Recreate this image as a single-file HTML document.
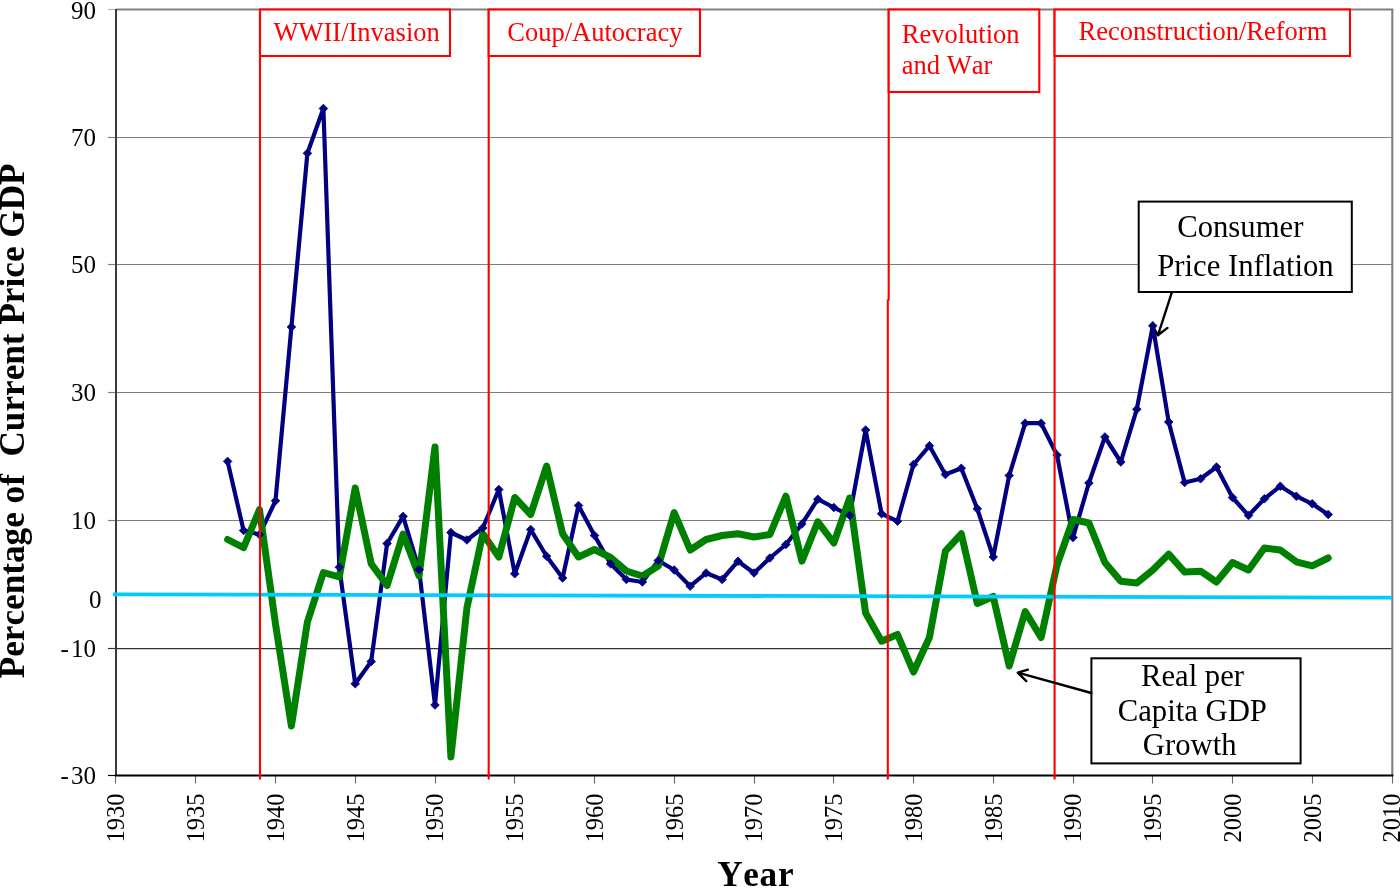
<!DOCTYPE html>
<html lang="en"><head><meta charset="utf-8"><title>Inflation and Real per Capita GDP Growth</title>
<style>
html,body{margin:0;padding:0;background:#fff;}
body{width:1400px;height:888px;overflow:hidden;}
svg{display:block;}
text{font-family:"Liberation Serif","Times New Roman",serif;font-kerning:none;}
.tick{font-size:25px;fill:#000;}
.red{font-size:26.5px;fill:#f00;}
.blk{font-size:30.7px;fill:#000;}
.ttl{font-size:35.2px;font-weight:bold;fill:#000;}
</style></head><body>
<svg width="1400" height="888" viewBox="0 0 1400 888">
<rect width="1400" height="888" fill="#fff"/>

<line x1="116" x2="1392" y1="137.5" y2="137.5" stroke="#7f7f7f" stroke-width="1.1"/>
<line x1="116" x2="1392" y1="264.5" y2="264.5" stroke="#7f7f7f" stroke-width="1.1"/>
<line x1="116" x2="1392" y1="392.5" y2="392.5" stroke="#7f7f7f" stroke-width="1.1"/>
<line x1="116" x2="1392" y1="520.5" y2="520.5" stroke="#7f7f7f" stroke-width="1.1"/>
<line x1="116" x2="1392" y1="648.5" y2="648.5" stroke="#333" stroke-width="1.25"/>
<line x1="116" x2="1393.3" y1="9.45" y2="9.45" stroke="#808080" stroke-width="2.1"/>
<line x1="1392.3" x2="1392.3" y1="9" y2="776" stroke="#808080" stroke-width="2.1"/>
<line x1="115.5" x2="115.5" y1="775.5" y2="783.5" stroke="#666" stroke-width="1.1"/>
<line x1="195.5" x2="195.5" y1="775.5" y2="783.5" stroke="#666" stroke-width="1.1"/>
<line x1="275.5" x2="275.5" y1="775.5" y2="783.5" stroke="#666" stroke-width="1.1"/>
<line x1="355.5" x2="355.5" y1="775.5" y2="783.5" stroke="#666" stroke-width="1.1"/>
<line x1="435.5" x2="435.5" y1="775.5" y2="783.5" stroke="#666" stroke-width="1.1"/>
<line x1="514.5" x2="514.5" y1="775.5" y2="783.5" stroke="#666" stroke-width="1.1"/>
<line x1="594.5" x2="594.5" y1="775.5" y2="783.5" stroke="#666" stroke-width="1.1"/>
<line x1="674.5" x2="674.5" y1="775.5" y2="783.5" stroke="#666" stroke-width="1.1"/>
<line x1="754.5" x2="754.5" y1="775.5" y2="783.5" stroke="#666" stroke-width="1.1"/>
<line x1="833.5" x2="833.5" y1="775.5" y2="783.5" stroke="#666" stroke-width="1.1"/>
<line x1="913.5" x2="913.5" y1="775.5" y2="783.5" stroke="#666" stroke-width="1.1"/>
<line x1="993.5" x2="993.5" y1="775.5" y2="783.5" stroke="#666" stroke-width="1.1"/>
<line x1="1073.5" x2="1073.5" y1="775.5" y2="783.5" stroke="#666" stroke-width="1.1"/>
<line x1="1152.5" x2="1152.5" y1="775.5" y2="783.5" stroke="#666" stroke-width="1.1"/>
<line x1="1232.5" x2="1232.5" y1="775.5" y2="783.5" stroke="#666" stroke-width="1.1"/>
<line x1="1312.5" x2="1312.5" y1="775.5" y2="783.5" stroke="#666" stroke-width="1.1"/>
<line x1="1392.5" x2="1392.5" y1="775.5" y2="783.5" stroke="#666" stroke-width="1.1"/>
<line x1="108" x2="116" y1="9.5" y2="9.5" stroke="#b0b0b0" stroke-width="1.15"/>
<line x1="108" x2="116" y1="137.5" y2="137.5" stroke="#7f7f7f" stroke-width="1.15"/>
<line x1="108" x2="116" y1="264.5" y2="264.5" stroke="#7f7f7f" stroke-width="1.15"/>
<line x1="108" x2="116" y1="392.5" y2="392.5" stroke="#7f7f7f" stroke-width="1.15"/>
<line x1="108" x2="116" y1="520.5" y2="520.5" stroke="#7f7f7f" stroke-width="1.15"/>
<line x1="108" x2="116" y1="648.5" y2="648.5" stroke="#333" stroke-width="1.15"/>
<line x1="108" x2="116" y1="775.5" y2="775.5" stroke="#000" stroke-width="1.15"/>
<line x1="116" x2="116" y1="9" y2="776" stroke="#3a3a3a" stroke-width="2"/>
<line x1="115" x2="1393.3" y1="775.45" y2="775.45" stroke="#000" stroke-width="1.9"/>
<path d="M1171.8 292.5L1157.9 335.3M1152.5 325.7L1157.9 335.3L1167.5 327.9" fill="none" stroke="#000" stroke-width="2.4" stroke-linecap="round" stroke-linejoin="round"/>
<polyline points="227.6,461.4 243.6,530.5 259.5,534.6 275.5,500.8 291.4,327.0 307.4,153.3 323.4,108.5 339.3,567.3 355.2,683.8 371.2,661.5 387.1,543.5 403.1,516.4 419.1,569.6 435.0,705.0 450.9,532.5 466.9,540.0 482.8,528.0 498.8,489.5 514.8,573.8 530.7,529.5 546.6,556.2 562.6,578.0 578.5,505.5 594.5,535.5 610.5,563.8 626.4,579.5 642.4,582.0 658.3,560.5 674.2,570.0 690.2,586.2 706.1,573.0 722.1,579.5 738.0,561.2 754.0,573.0 769.9,558.0 785.9,544.5 801.9,524.0 817.8,499.2 833.8,507.5 849.7,515.5 865.6,430.0 881.6,513.8 897.5,521.2 913.5,464.5 929.4,445.8 945.4,474.5 961.3,468.2 977.3,508.8 993.2,557.0 1009.2,475.5 1025.2,423.2 1041.1,423.2 1057.0,455.0 1073.0,537.5 1088.9,483.0 1104.9,437.0 1120.8,462.0 1136.8,409.2 1152.8,325.8 1168.7,422.0 1184.6,482.5 1200.6,478.8 1216.5,467.0 1232.5,497.5 1248.5,515.5 1264.4,498.8 1280.3,486.2 1296.3,496.2 1312.2,503.8 1328.2,514.5" fill="none" stroke="#000080" stroke-width="4.2" stroke-linejoin="round" stroke-linecap="round"/>
<polyline points="227.6,539.5 243.6,547.6 259.5,509.7 275.5,624.0 291.4,726.0 307.4,622.0 323.4,572.5 339.3,577.0 355.2,488.0 371.2,563.8 387.1,585.4 403.1,534.0 419.1,576.0 435.0,447.0 450.9,757.0 466.9,608.0 482.8,533.8 498.8,557.0 514.8,497.5 530.7,514.5 546.6,466.0 562.6,533.8 578.5,557.0 594.5,549.5 610.5,557.5 626.4,571.0 642.4,576.0 658.3,566.0 674.2,512.5 690.2,550.0 706.1,539.5 722.1,535.5 738.0,533.8 754.0,537.0 769.9,534.5 785.9,496.2 801.9,561.2 817.8,521.8 833.8,543.0 849.7,498.0 865.6,613.0 881.6,641.2 897.5,634.5 913.5,672.0 929.4,637.5 945.4,551.2 961.3,533.8 977.3,603.5 993.2,596.5 1009.2,666.0 1025.2,611.5 1041.1,637.5 1057.0,565.0 1073.0,519.5 1088.9,523.0 1104.9,562.5 1120.8,581.2 1136.8,583.0 1152.8,570.0 1168.7,554.2 1184.6,572.0 1200.6,571.2 1216.5,582.0 1232.5,562.5 1248.5,570.0 1264.4,548.0 1280.3,550.0 1296.3,561.8 1312.2,565.8 1328.2,558.0" fill="none" stroke="#008000" stroke-width="7" stroke-linejoin="round" stroke-linecap="round"/>
<path d="M223.3 461.4L227.6 457.1L231.9 461.4L227.6 465.7ZM239.3 530.5L243.6 526.2L247.9 530.5L243.6 534.8ZM255.2 534.6L259.5 530.3L263.8 534.6L259.5 538.9ZM271.2 500.8L275.5 496.5L279.8 500.8L275.5 505.1ZM287.1 327.0L291.4 322.7L295.8 327.0L291.4 331.3ZM303.1 153.3L307.4 149.0L311.7 153.3L307.4 157.6ZM319.1 108.5L323.4 104.2L327.7 108.5L323.4 112.8ZM335.0 567.3L339.3 563.0L343.6 567.3L339.3 571.6ZM350.9 683.8L355.2 679.5L359.6 683.8L355.2 688.0ZM366.9 661.5L371.2 657.2L375.5 661.5L371.2 665.8ZM382.8 543.5L387.1 539.2L391.4 543.5L387.1 547.8ZM398.8 516.4L403.1 512.1L407.4 516.4L403.1 520.7ZM414.8 569.6L419.1 565.3L423.4 569.6L419.1 573.9ZM430.7 705.0L435.0 700.7L439.3 705.0L435.0 709.3ZM446.6 532.5L450.9 528.2L455.2 532.5L450.9 536.8ZM462.6 540.0L466.9 535.7L471.2 540.0L466.9 544.3ZM478.5 528.0L482.8 523.7L487.1 528.0L482.8 532.3ZM494.5 489.5L498.8 485.2L503.1 489.5L498.8 493.8ZM510.4 573.8L514.8 569.5L519.0 573.8L514.8 578.0ZM526.4 529.5L530.7 525.2L535.0 529.5L530.7 533.8ZM542.4 556.2L546.6 552.0L550.9 556.2L546.6 560.5ZM558.3 578.0L562.6 573.7L566.9 578.0L562.6 582.3ZM574.2 505.5L578.5 501.2L582.8 505.5L578.5 509.8ZM590.2 535.5L594.5 531.2L598.8 535.5L594.5 539.8ZM606.2 563.8L610.5 559.5L614.8 563.8L610.5 568.0ZM622.1 579.5L626.4 575.2L630.7 579.5L626.4 583.8ZM638.1 582.0L642.4 577.7L646.6 582.0L642.4 586.3ZM654.0 560.5L658.3 556.2L662.6 560.5L658.3 564.8ZM670.0 570.0L674.2 565.7L678.5 570.0L674.2 574.3ZM685.9 586.2L690.2 582.0L694.5 586.2L690.2 590.5ZM701.9 573.0L706.1 568.7L710.4 573.0L706.1 577.3ZM717.8 579.5L722.1 575.2L726.4 579.5L722.1 583.8ZM733.8 561.2L738.0 557.0L742.3 561.2L738.0 565.5ZM749.7 573.0L754.0 568.7L758.3 573.0L754.0 577.3ZM765.6 558.0L769.9 553.7L774.2 558.0L769.9 562.3ZM781.6 544.5L785.9 540.2L790.2 544.5L785.9 548.8ZM797.6 524.0L801.9 519.7L806.1 524.0L801.9 528.3ZM813.5 499.2L817.8 494.9L822.1 499.2L817.8 503.6ZM829.5 507.5L833.8 503.2L838.0 507.5L833.8 511.8ZM845.4 515.5L849.7 511.2L854.0 515.5L849.7 519.8ZM861.4 430.0L865.6 425.7L869.9 430.0L865.6 434.3ZM877.3 513.8L881.6 509.4L885.9 513.8L881.6 518.0ZM893.2 521.2L897.5 517.0L901.8 521.2L897.5 525.5ZM909.2 464.5L913.5 460.2L917.8 464.5L913.5 468.8ZM925.1 445.8L929.4 441.4L933.7 445.8L929.4 450.1ZM941.1 474.5L945.4 470.2L949.7 474.5L945.4 478.8ZM957.0 468.2L961.3 463.9L965.6 468.2L961.3 472.6ZM973.0 508.8L977.3 504.4L981.6 508.8L977.3 513.0ZM989.0 557.0L993.2 552.7L997.5 557.0L993.2 561.3ZM1004.9 475.5L1009.2 471.2L1013.5 475.5L1009.2 479.8ZM1020.9 423.2L1025.2 418.9L1029.5 423.2L1025.2 427.6ZM1036.8 423.2L1041.1 418.9L1045.4 423.2L1041.1 427.6ZM1052.8 455.0L1057.0 450.7L1061.3 455.0L1057.0 459.3ZM1068.7 537.5L1073.0 533.2L1077.3 537.5L1073.0 541.8ZM1084.6 483.0L1088.9 478.7L1093.2 483.0L1088.9 487.3ZM1100.6 437.0L1104.9 432.7L1109.2 437.0L1104.9 441.3ZM1116.5 462.0L1120.8 457.7L1125.1 462.0L1120.8 466.3ZM1132.5 409.2L1136.8 404.9L1141.1 409.2L1136.8 413.6ZM1148.5 325.8L1152.8 321.4L1157.0 325.8L1152.8 330.1ZM1164.4 422.0L1168.7 417.7L1173.0 422.0L1168.7 426.3ZM1180.3 482.5L1184.6 478.2L1188.9 482.5L1184.6 486.8ZM1196.3 478.8L1200.6 474.4L1204.9 478.8L1200.6 483.1ZM1212.2 467.0L1216.5 462.7L1220.8 467.0L1216.5 471.3ZM1228.2 497.5L1232.5 493.2L1236.8 497.5L1232.5 501.8ZM1244.2 515.5L1248.5 511.2L1252.8 515.5L1248.5 519.8ZM1260.1 498.8L1264.4 494.4L1268.7 498.8L1264.4 503.1ZM1276.0 486.2L1280.3 481.9L1284.6 486.2L1280.3 490.6ZM1292.0 496.2L1296.3 491.9L1300.6 496.2L1296.3 500.6ZM1308.0 503.8L1312.2 499.4L1316.5 503.8L1312.2 508.1ZM1323.9 514.5L1328.2 510.2L1332.5 514.5L1328.2 518.8Z" fill="#000080" stroke="#000080" stroke-width="0.8" stroke-linejoin="round"/>
<line x1="113" x2="1392" y1="594.3" y2="597.6" stroke="#00ccff" stroke-width="3.8"/>
<line x1="260" x2="260" y1="9.5" y2="779.5" stroke="#f00" stroke-width="2.1"/>
<line x1="488.7" x2="488.7" y1="9.5" y2="779.5" stroke="#f00" stroke-width="2.1"/>
<line x1="1054.6" x2="1054.6" y1="9.5" y2="779.5" stroke="#f00" stroke-width="2.1"/>
<line x1="888.7" x2="888.7" y1="9.5" y2="300.5" stroke="#f00" stroke-width="2.1"/>
<line x1="887.8" x2="887.8" y1="299.5" y2="779.5" stroke="#f00" stroke-width="2.1"/>
<rect x="260" y="9.5" width="190" height="46.5" fill="#fff" stroke="#f00" stroke-width="2.1"/>
<rect x="488.7" y="9.5" width="211.3" height="46.5" fill="#fff" stroke="#f00" stroke-width="2.1"/>
<rect x="888.7" y="9.5" width="150.5999999999999" height="82.5" fill="#fff" stroke="#f00" stroke-width="2.1"/>
<rect x="1054.6" y="9.5" width="295.4000000000001" height="46.5" fill="#fff" stroke="#f00" stroke-width="2.1"/>
<text class="red" x="273.5" y="40.5">WWII/Invasion</text>
<text class="red" x="507.3" y="40.5">Coup/Autocracy</text>
<text class="red" x="901.8" y="42.5">Revolution</text>
<text class="red" x="901.8" y="74.3">and War</text>
<text class="red" x="1078.5" y="40">Reconstruction/Reform</text>
<rect x="1138.7" y="201.6" width="213.1" height="90.4" fill="#fff" stroke="#000" stroke-width="2"/>
<text class="blk" x="1240.3" y="237.4" text-anchor="middle">Consumer</text>
<text class="blk" x="1245.5" y="276" text-anchor="middle">Price Inflation</text>
<rect x="1091.4" y="658.3" width="209.2" height="105.1" fill="#fff" stroke="#000" stroke-width="2"/>
<text class="blk" x="1192.5" y="686.4" text-anchor="middle">Real per</text>
<text class="blk" x="1192.3" y="721.1" text-anchor="middle">Capita GDP</text>
<text class="blk" x="1189.7" y="755.4" text-anchor="middle">Growth</text>
<path d="M1091.4 693L1017.8 672.7M1027.9 669.7L1017.8 672.7L1026.3 681.1" fill="none" stroke="#000" stroke-width="2.4" stroke-linecap="round" stroke-linejoin="round"/>
<text class="tick" x="96" y="18.5" text-anchor="end">90</text>
<text class="tick" x="96" y="146.0" text-anchor="end">70</text>
<text class="tick" x="96" y="273.0" text-anchor="end">50</text>
<text class="tick" x="96" y="401.0" text-anchor="end">30</text>
<text class="tick" x="96" y="529.0" text-anchor="end">10</text>
<text class="tick" x="96" y="657.0" text-anchor="end">-<tspan dx="2.2">10</tspan></text>
<text class="tick" x="96" y="784.0" text-anchor="end">-<tspan dx="2.2">30</tspan></text>
<text class="tick" x="101.5" y="608.3" text-anchor="end">0</text>
<text class="tick" style="font-size:24.5px" transform="translate(124.40 842.6) rotate(-90)">1930</text>
<text class="tick" style="font-size:24.5px" transform="translate(204.15 842.6) rotate(-90)">1935</text>
<text class="tick" style="font-size:24.5px" transform="translate(283.90 842.6) rotate(-90)">1940</text>
<text class="tick" style="font-size:24.5px" transform="translate(363.65 842.6) rotate(-90)">1945</text>
<text class="tick" style="font-size:24.5px" transform="translate(443.40 842.6) rotate(-90)">1950</text>
<text class="tick" style="font-size:24.5px" transform="translate(523.15 842.6) rotate(-90)">1955</text>
<text class="tick" style="font-size:24.5px" transform="translate(602.90 842.6) rotate(-90)">1960</text>
<text class="tick" style="font-size:24.5px" transform="translate(682.65 842.6) rotate(-90)">1965</text>
<text class="tick" style="font-size:24.5px" transform="translate(762.40 842.6) rotate(-90)">1970</text>
<text class="tick" style="font-size:24.5px" transform="translate(842.15 842.6) rotate(-90)">1975</text>
<text class="tick" style="font-size:24.5px" transform="translate(921.90 842.6) rotate(-90)">1980</text>
<text class="tick" style="font-size:24.5px" transform="translate(1001.65 842.6) rotate(-90)">1985</text>
<text class="tick" style="font-size:24.5px" transform="translate(1081.40 842.6) rotate(-90)">1990</text>
<text class="tick" style="font-size:24.5px" transform="translate(1161.15 842.6) rotate(-90)">1995</text>
<text class="tick" style="font-size:24.5px" transform="translate(1240.90 842.6) rotate(-90)">2000</text>
<text class="tick" style="font-size:24.5px" transform="translate(1320.65 842.6) rotate(-90)">2005</text>
<text class="tick" style="font-size:24.5px" transform="translate(1400.40 842.6) rotate(-90)">2010</text>
<text class="ttl" transform="translate(24.3 678.3) rotate(-90)" xml:space="preserve">Percentage of  Current Price GDP</text>
<text class="ttl" x="717.2" y="885.8" style="letter-spacing:0.7px">Year</text>
</svg></body></html>
